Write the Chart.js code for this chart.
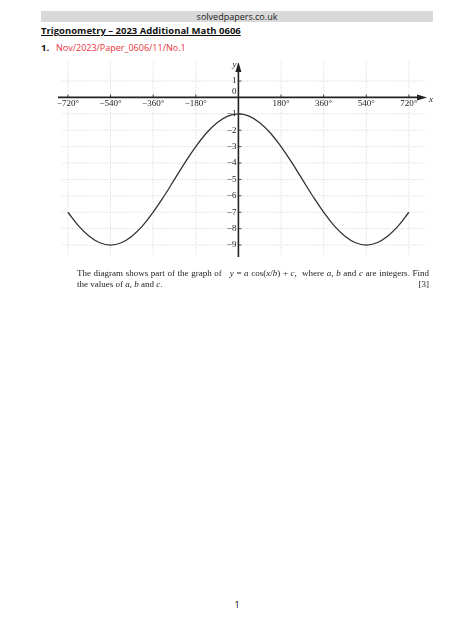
<!DOCTYPE html>
<html>
<head>
<meta charset="utf-8">
<script src="https://cdn.jsdelivr.net/npm/chart.js@4.4.0/dist/chart.umd.min.js"></script>
<style>
  body { margin: 0; background: #fff; width: 474px; height: 632px; position: relative; font-family: "Open Sans", sans-serif; }
  .bar { position: absolute; left: 41px; top: 11px; width: 392px; height: 11px; background: #d9d9d9; font-size: 9px; line-height: 11px; text-align: center; color: #222; }
  .title { position: absolute; left: 41px; top: 24px; font-size: 9.5px; font-weight: bold; text-decoration: underline; color: #111; }
  .num { position: absolute; left: 41px; top: 41px; font-size: 9.5px; font-weight: bold; color: #111; }
  .ref { position: absolute; left: 56px; top: 41px; font-size: 9px; color: #e8333a; }
  #wrap { position: absolute; left: 0; top: 55px; width: 474px; height: 215px; }
  .q { position: absolute; left: 77px; top: 268px; width: 352px; font-family: "Liberation Serif", serif; font-size: 9px; line-height: 11px; color: #222; text-align: justify; }
  .page { position: absolute; left: 0; width: 474px; top: 598px; text-align: center; font-size: 9px; }
</style>
</head>
<body>
<div class="bar">solvedpapers.co.uk</div>
<div class="title">Trigonometry – 2023 Additional Math 0606</div>
<div class="num">1.</div>
<div class="ref">Nov/2023/Paper_0606/11/No.1</div>
<div id="wrap"><canvas id="myChart"></canvas></div>
<div class="q">The diagram shows part of the graph of &nbsp; <i>y</i> = <i>a</i> cos(<i>x</i>/<i>b</i>) + <i>c</i>, &nbsp;where <i>a</i>, <i>b</i> and <i>c</i> are integers. Find the values of <i>a</i>, <i>b</i> and <i>c</i>.<span style="float:right">[3]</span></div>
<div class="page">1</div>
<script>
const xValues = [-720, -675, -630, -585, -540, -495, -450, -405, -360, -315, -270, -225, -180, -135, -90, -45, 0,
  45, 90, 135, 180, 225, 270, 315, 360, 405, 450, 495, 540, 585, 630, 675, 720];
const yValues = [-7, -7.83, -8.46, -8.86, -9, -8.86, -8.46, -7.83, -7, -6.04, -5, -3.96, -3, -2.17, -1.54, -1.14, -1,
  -1.14, -1.54, -2.17, -3, -3.96, -5, -6.04, -7, -7.83, -8.46, -8.86, -9, -8.86, -8.46, -7.83, -7];
const xTicks = [-720, -540, -360, -180, 180, 360, 540, 720];
const xTickLabels = ["\u2212720°", "\u2212540°", "\u2212360°", "\u2212180°", "180°", "360°", "540°", "720°"];
const yTicks = [1, -1, -2, -3, -4, -5, -6, -7, -8, -9];
const yTickLabels = ["1", "\u22121", "\u22122", "\u22123", "\u22124", "\u22125", "\u22126", "\u22127", "\u22128", "\u22129"];

const axesPlugin = {
  id: "axes",
  beforeDatasetsDraw(chart) {
    const { ctx, chartArea: a, scales: { x, y } } = chart;
    ctx.save();
    ctx.strokeStyle = "#c4c4c4";
    ctx.lineWidth = 0.7;
    ctx.setLineDash([1, 1.5]);
    yTicks.forEach((v) => {
      const py = y.getPixelForValue(v);
      ctx.beginPath(); ctx.moveTo(a.left, py); ctx.lineTo(a.right, py); ctx.stroke();
    });
    xTicks.forEach((v) => {
      const px = x.getPixelForValue(v);
      ctx.beginPath(); ctx.moveTo(px, a.top); ctx.lineTo(px, a.bottom); ctx.stroke();
    });
    ctx.setLineDash([]);
    const x0 = x.getPixelForValue(0), y0 = y.getPixelForValue(0);
    ctx.strokeStyle = "#222";
    ctx.fillStyle = "#222";
    ctx.lineWidth = 1.6;
    ctx.beginPath(); ctx.moveTo(a.left - 4, y0); ctx.lineTo(a.right - 4, y0); ctx.stroke();
    ctx.beginPath(); ctx.moveTo(x0, a.bottom); ctx.lineTo(x0, a.top + 4); ctx.stroke();
    ctx.beginPath(); ctx.moveTo(a.right + 2, y0); ctx.lineTo(a.right - 8, y0 - 3); ctx.lineTo(a.right - 8, y0 + 3); ctx.fill();
    ctx.beginPath(); ctx.moveTo(x0, a.top); ctx.lineTo(x0 - 3, a.top + 10); ctx.lineTo(x0 + 3, a.top + 10); ctx.fill();
    ctx.lineWidth = 0.8;
    ctx.font = "9px 'Liberation Serif', serif";
    ctx.textAlign = "center";
    ctx.textBaseline = "top";
    xTicks.forEach((v, i) => {
      const px = x.getPixelForValue(v);
      ctx.beginPath(); ctx.moveTo(px, y0 - 3); ctx.lineTo(px, y0); ctx.stroke();
      ctx.fillText(xTickLabels[i], px, y0 + 2);
    });
    ctx.textAlign = "right";
    ctx.textBaseline = "middle";
    yTicks.forEach((v, i) => {
      const py = y.getPixelForValue(v);
      ctx.beginPath(); ctx.moveTo(x0, py); ctx.lineTo(x0 + 3, py); ctx.stroke();
      ctx.fillText(yTickLabels[i], x0 - 2, py);
    });
    ctx.textBaseline = "bottom";
    ctx.fillText("0", x0 - 2, y0 - 1);
    ctx.font = "italic 9px 'Liberation Serif', serif";
    ctx.textAlign = "left";
    ctx.textBaseline = "middle";
    ctx.fillText("x", a.right + 4, y0 + 2);
    ctx.textAlign = "right";
    ctx.fillText("y", x0 - 2, a.top + 3);
    ctx.restore();
  },
};

const ctx = document.getElementById("myChart").getContext("2d");
new Chart(ctx, {
  type: "line",
  data: {
    labels: xValues,
    datasets: [{
      data: xValues.map((v, i) => ({ x: v, y: yValues[i] })),
      borderColor: "#333",
      borderWidth: 1.3,
      pointRadius: 0,
      tension: 0.4,
      fill: false,
    }],
  },
  options: {
    responsive: true,
    maintainAspectRatio: false,
    animation: false,
    layout: { padding: { left: 62, right: 49, top: 7, bottom: 13 } },
    scales: {
      x: { type: "linear", min: -745, max: 788, display: false },
      y: { type: "linear", min: -9.73, max: 2.16, display: false },
    },
    plugins: { legend: { display: false }, tooltip: { enabled: false } },
  },
  plugins: [axesPlugin],
});
</script>
</body>
</html>
